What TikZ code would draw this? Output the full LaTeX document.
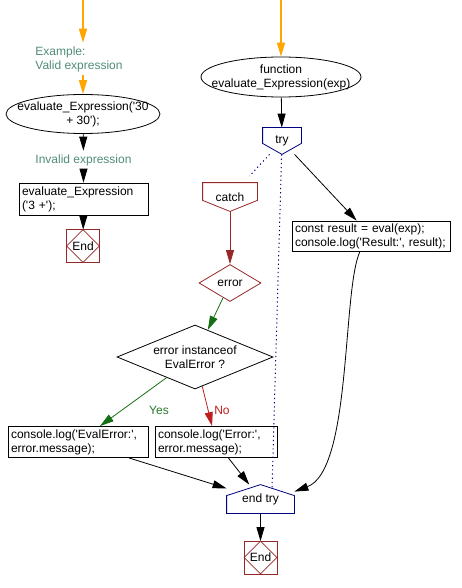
\documentclass[tikz,border=0pt]{standalone}
\usepackage{fontspec}
\setmainfont{Liberation Sans}[Ligatures=TeXOff]
\usetikzlibrary{arrows.meta,shapes.geometric}

\definecolor{startorange}{RGB}{255,165,0}
\definecolor{noteteal}{RGB}{80,140,120}
\definecolor{trynavy}{RGB}{0,0,128}
\definecolor{catchred}{RGB}{150,40,40}
\definecolor{yesgreen}{RGB}{40,120,40}
\definecolor{yesline}{RGB}{20,110,20}
\definecolor{nored}{RGB}{190,30,30}

\begin{document}
\begin{tikzpicture}[x=1pt, y=-1pt, font=\fontsize{12}{14}\selectfont, line width=0.8pt,
  arr/.style={-{Triangle[length=14pt,width=8pt]}},
  startarr/.style={arr, draw=startorange, line width=1.6pt},
  note/.style={text=noteteal, align=left},
  ell/.style={draw, ellipse, inner xsep=-15pt, inner ysep=0pt, align=center},
  box/.style={draw, rectangle, align=left, inner xsep=3pt, inner ysep=2pt},
  tryshape/.style={rectangle, inner sep=0pt},
  finish/.style={rectangle, minimum size=32pt, inner sep=0pt},
  test/.style={draw, diamond, aspect=2.4, inner sep=0pt, align=center},
  dotline/.style={draw=trynavy, line width=1pt, dash pattern=on 1.2pt off 3pt}]
\useasboundingbox (0,0) rectangle (461,588);

% left: example call
\coordinate (lstart) at (83,0);
\node[note] (example) at (79,59) {Example:\\Valid expression};
\node[ell, minimum width=154pt, minimum height=39pt] (valid) at (83,114) {evaluate\_Expression('30\\+ 30');};
\node[note] (invalid) at (83.5,160) {Invalid expression};
\node[box, text width=123pt, minimum height=32pt] (call) at (83.5,199) {evaluate\_Expression\\('3 +');};
\node[finish] (endA) at (83,246) {End};

% right: the function
\coordinate (rstart) at (281,0);
\node[ell, minimum width=160pt, minimum height=40pt] (func) at (281,77) {function\\evaluate\_Expression(exp)};
\node[tryshape, minimum width=38pt, minimum height=26pt] (try) at (282,141) {try};
\node[tryshape, minimum width=54pt, minimum height=28pt] (catch) at (230,197) {catch};
\node[test, minimum width=62pt, minimum height=37pt, draw=catchred] (error) at (230,283) {error};
\node[test, minimum width=156pt, minimum height=64pt] (iseval) at (195,357) {error instanceof\\EvalError ?};
\node[box, text width=134pt, minimum height=31pt] (logeval) at (78,442) {console.log('EvalError:',\\error.message);};
\node[box, text width=116pt, minimum height=31pt] (logerr) at (216,442) {console.log('Error:',\\error.message);};
\node[box, text width=152pt, minimum height=30pt] (result) at (371,236) {const result = eval(exp);\\console.log('Result:', result);};
\node[tryshape, minimum width=67pt, minimum height=28pt] (endtry) at (260.5,499) {end try};
\node[finish] (endB) at (260.5,557.5) {End};
\coordinate (dotend) at (272,489);

\node[text=yesgreen] (yes) at (159,410) {Yes};
\node[text=nored] (no) at (222,410) {No};

% outlines
\draw[trynavy] (try.north west) -- (try.north east) -- ([yshift=11pt]try.south east) -- (try.south) -- ([yshift=11pt]try.south west) -- cycle;
\draw[catchred] (catch.north west) -- (catch.north east) -- ([yshift=11pt]catch.south east) -- (catch.south) -- ([yshift=11pt]catch.south west) -- cycle;
\draw[trynavy] (endtry.north) -- ([yshift=-11pt]endtry.north east) -- (endtry.south east) -- (endtry.south west) -- ([yshift=-11pt]endtry.north west) -- cycle;
\draw[catchred] (endA.north west) rectangle (endA.south east);
\draw[catchred] (endA.north) -- (endA.east) -- (endA.south) -- (endA.west) -- cycle;
\draw[catchred] (endB.north west) rectangle (endB.south east);
\draw[catchred] (endB.north) -- (endB.east) -- (endB.south) -- (endB.west) -- cycle;

% connectors
\draw[startarr] (lstart) -- (lstart |- example.north);
\draw[startarr] (example.south -| valid) -- (valid);
\draw[arr] (valid) -- (invalid);
\draw[arr] (invalid) -- (call);
\draw[arr] (call) -- (endA);

\draw[startarr] (rstart) -- (func);
\draw[arr] (func) -- (try);
\draw[arr] (try) -- (result);
\draw[dotline, shorten >=9pt] (try) -- (catch);
\draw[dotline] (try) -- (dotend);
\draw[arr, catchred] (catch) -- (error);
\draw[arr, yesline] (error) -- (iseval);
\draw[arr, yesline] (iseval) -- (logeval);
\draw[arr, nored] (iseval) -- (logerr);
\draw[arr] (logeval) -- (endtry);
\draw[arr] (logerr) -- (endtry);
\draw[arr] ([xshift=-11pt]result.south) .. controls (342,290) and (352,470) .. ([yshift=-7pt]endtry.north east);
\draw[arr] (endtry) -- (endB);
\end{tikzpicture}
\end{document}
